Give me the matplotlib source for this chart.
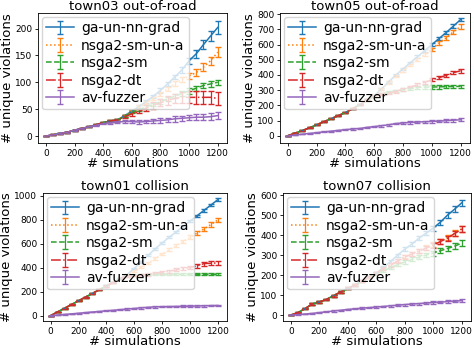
import matplotlib
matplotlib.use("Agg")
import matplotlib.pyplot as plt
import numpy as np

sims = list(range(0, 1250, 50))
labels = ["ga-un-nn-grad", "nsga2-sm-un-a", "nsga2-sm", "nsga2-dt", "av-fuzzer"]
colors = ["#1f77b4", "#ff7f0e", "#2ca02c", "#d62728", "#9467bd"]
styles = ["-", ":", "--", "-.", "-"]

# town03 out-of-road
t03_mean = [
    [0, 2, 5, 7, 11, 14, 17, 21, 25, 28, 30, 38, 46, 55, 64, 74, 85, 97, 110, 123, 140, 153, 170, 186, 202],
    [0, 2, 5, 7, 11, 14, 17, 21, 25, 28, 30, 38, 46, 54, 62, 70, 78, 88, 98, 105, 112, 118, 128, 140, 156],
    [0, 2, 5, 7, 11, 14, 17, 21, 25, 28, 30, 37, 44, 49, 54, 59, 64, 69, 74, 79, 84, 89, 94, 97, 100],
    [0, 2, 5, 7, 11, 14, 17, 21, 25, 28, 30, 36, 41, 46, 52, 57, 62, 66, 70, 72, 72, 72, 72, 72, 70],
    [0, 2, 5, 7, 11, 14, 17, 20, 23, 25, 26, 27, 27, 26, 27, 28, 29, 30, 32, 33, 34, 35, 35, 36, 38],
]
t03_err = [
    [0, 1, 1, 1, 1, 1, 1, 1, 1, 1, 2, 2, 2, 3, 3, 3, 4, 4, 4, 5, 6, 7, 8, 9, 12],
    [0, 1, 1, 1, 1, 1, 1, 1, 1, 1, 2, 2, 2, 3, 3, 3, 4, 4, 4, 5, 6, 6, 7, 8, 9],
    [0, 1, 1, 1, 1, 1, 1, 1, 1, 1, 2, 2, 2, 3, 3, 3, 4, 4, 4, 5, 5, 5, 5, 5, 5],
    [0, 1, 1, 1, 1, 1, 1, 1, 1, 1, 2, 3, 3, 4, 5, 6, 7, 8, 9, 10, 11, 12, 12, 12, 12],
    [0, 1, 1, 1, 1, 1, 1, 1, 1, 2, 2, 3, 3, 3, 3, 3, 4, 4, 5, 5, 5, 6, 6, 6, 6],
]

# town05 out-of-road
t05_mean = [
    [0, 17, 34, 52, 72, 92, 112, 132, 153, 178, 205, 233, 262, 308, 355, 400, 440, 480, 520, 560, 600, 640, 680, 722, 765],
    [0, 17, 34, 52, 72, 92, 112, 132, 153, 178, 205, 233, 262, 305, 350, 393, 430, 465, 500, 535, 570, 610, 645, 685, 720],
    [0, 17, 34, 52, 72, 92, 112, 132, 153, 178, 205, 233, 262, 275, 287, 296, 302, 310, 318, 320, 320, 322, 323, 324, 325],
    [0, 17, 34, 52, 72, 92, 112, 132, 153, 178, 205, 233, 262, 273, 283, 292, 305, 320, 335, 352, 368, 382, 398, 415, 428],
    [0, 5, 10, 15, 20, 25, 30, 35, 40, 44, 48, 55, 60, 66, 72, 80, 84, 87, 90, 92, 94, 96, 99, 102, 105],
]
t05_err = [
    [0, 2, 3, 3, 4, 4, 4, 5, 5, 5, 6, 6, 6, 7, 7, 8, 8, 8, 9, 9, 10, 10, 10, 11, 12],
    [0, 2, 3, 3, 4, 4, 4, 5, 5, 5, 6, 6, 6, 7, 7, 8, 8, 8, 9, 10, 10, 11, 12, 13, 15],
    [0, 2, 3, 3, 4, 4, 4, 5, 5, 5, 6, 6, 7, 7, 8, 8, 9, 10, 10, 12, 12, 12, 12, 12, 12],
    [0, 2, 3, 3, 4, 4, 4, 5, 5, 5, 6, 6, 7, 7, 8, 8, 9, 9, 10, 10, 10, 11, 11, 11, 12],
    [0, 1, 2, 2, 3, 3, 3, 4, 4, 4, 5, 5, 5, 6, 6, 6, 7, 7, 7, 8, 8, 8, 9, 9, 9],
]

# town01 collision
t01_mean = [
    [0, 31, 62, 93, 124, 155, 186, 217, 248, 279, 310, 345, 395, 450, 505, 558, 608, 655, 700, 745, 790, 835, 880, 925, 970],
    [0, 31, 62, 93, 124, 155, 186, 217, 248, 279, 310, 340, 372, 405, 440, 478, 515, 550, 585, 620, 655, 690, 725, 762, 800],
    [0, 31, 62, 93, 124, 155, 186, 217, 248, 279, 310, 330, 338, 342, 345, 345, 345, 345, 345, 345, 345, 345, 345, 345, 345],
    [0, 31, 62, 93, 124, 155, 186, 217, 248, 279, 310, 330, 335, 340, 345, 355, 362, 372, 382, 392, 403, 415, 435, 438, 440],
    [0, 5, 10, 15, 20, 25, 30, 35, 40, 45, 50, 55, 60, 65, 70, 73, 75, 76, 77, 78, 79, 80, 82, 84, 85],
]
t01_err = [
    [0, 2, 3, 3, 4, 4, 5, 5, 5, 6, 6, 6, 7, 7, 7, 8, 8, 8, 9, 9, 9, 10, 10, 10, 11],
    [0, 2, 3, 3, 4, 4, 5, 5, 5, 6, 6, 7, 8, 9, 10, 11, 12, 13, 14, 15, 16, 17, 18, 19, 20],
    [0, 2, 3, 3, 4, 4, 5, 5, 5, 6, 6, 6, 7, 7, 7, 8, 8, 8, 8, 8, 8, 8, 8, 8, 8],
    [0, 2, 3, 3, 4, 4, 5, 5, 5, 6, 6, 7, 8, 9, 10, 11, 12, 12, 13, 14, 15, 16, 17, 18, 18],
    [0, 1, 2, 2, 3, 3, 3, 4, 4, 4, 5, 5, 5, 6, 6, 6, 6, 6, 6, 7, 7, 7, 7, 7, 7],
]

# town07 collision
t07_mean = [
    [0, 12, 32, 55, 65, 78, 97, 115, 133, 150, 170, 190, 210, 238, 268, 300, 330, 355, 385, 410, 435, 465, 500, 530, 562],
    [0, 12, 32, 55, 65, 78, 97, 115, 133, 150, 170, 190, 210, 234, 253, 272, 292, 308, 323, 338, 353, 370, 388, 410, 432],
    [0, 12, 32, 55, 65, 78, 97, 115, 133, 150, 170, 190, 208, 222, 237, 252, 265, 278, 290, 300, 310, 322, 333, 345, 360],
    [0, 12, 32, 55, 65, 78, 97, 115, 133, 150, 170, 190, 210, 232, 250, 270, 290, 305, 320, 335, 350, 368, 385, 408, 430],
    [0, 2, 5, 8, 12, 16, 20, 24, 28, 31, 34, 37, 40, 43, 46, 49, 52, 55, 57, 60, 62, 64, 67, 69, 72],
]
t07_err = [
    [0, 2, 3, 3, 4, 4, 5, 5, 5, 6, 6, 6, 7, 7, 8, 8, 9, 10, 10, 11, 12, 13, 14, 15, 16],
    [0, 2, 3, 3, 4, 4, 5, 5, 5, 6, 6, 6, 7, 7, 8, 8, 9, 10, 10, 11, 12, 12, 13, 14, 15],
    [0, 2, 3, 3, 4, 4, 5, 5, 5, 6, 6, 6, 7, 7, 8, 8, 9, 10, 10, 11, 12, 12, 13, 14, 15],
    [0, 2, 3, 3, 4, 4, 5, 5, 5, 6, 6, 6, 7, 7, 8, 8, 9, 10, 10, 11, 12, 12, 13, 14, 15],
    [0, 1, 1, 2, 2, 2, 3, 3, 3, 3, 4, 4, 4, 4, 5, 5, 5, 5, 5, 6, 6, 6, 6, 6, 6],
]

panels = [
    ("town03 out-of-road", t03_mean, t03_err, np.arange(0, 201, 50), (-13, 229)),
    ("town05 out-of-road", t05_mean, t05_err, np.arange(0, 801, 100), (-48, 808)),
    ("town01 collision", t01_mean, t01_err, np.arange(0, 1001, 200), (-45, 1025)),
    ("town07 collision", t07_mean, t07_err, np.arange(0, 601, 100), (-30, 611)),
]

plt.rcParams.update({"font.family": "DejaVu Sans", "font.size": 8})

W, H = 474, 348
fig = plt.figure(figsize=(W / 100, H / 100), dpi=100)
# axes boxes in pixels: left, top, right, bottom
boxes = [
    (38, 13, 227, 143),
    (280, 13, 470, 143),
    (43, 193, 227, 321),
    (283, 193, 471, 321),
]
for (title, means, errs, yt, ylim), (x0, y0, x1, y1) in zip(panels, boxes):
    ax = fig.add_axes([x0 / W, 1 - y1 / H, (x1 - x0) / W, (y1 - y0) / H])
    for m, e, lab, c, ls in zip(means, errs, labels, colors, styles):
        ax.errorbar(sims, m, yerr=e, color=c, ls=ls, lw=1.1, capsize=2,
                    elinewidth=0.9, label=lab)
    ax.set_title(title, fontsize=9.5, pad=1.5)
    ax.set_xlabel("# simulations", fontsize=9.5, labelpad=-0.5)
    ax.set_ylabel("# unique violations", fontsize=9.5, labelpad=1)
    ax.set_xticks(np.arange(0, 1201, 200))
    ax.set_yticks(yt)
    ax.set_ylim(*ylim)
    ax.set_xlim(-55, 1265)
    ax.tick_params(labelsize=6.5, length=2.5, pad=1.5, width=0.6)
    for s in ax.spines.values():
        s.set_linewidth(0.6)
    ax.legend(loc="upper left", fontsize=10, handlelength=2.0,
              handletextpad=0.5, labelspacing=0.25, borderaxespad=0.3,
              borderpad=0.3)

fig.savefig("out.png", dpi=100)
